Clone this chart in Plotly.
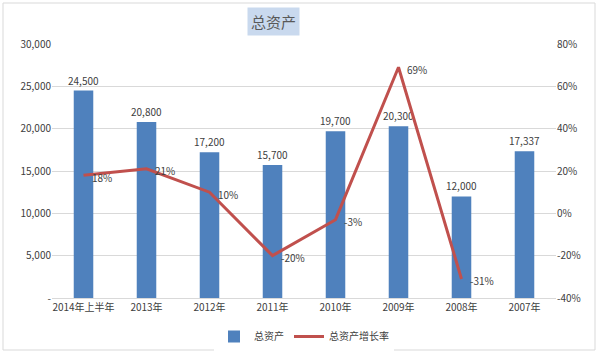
import plotly.graph_objects as go

categories = ["2014年上半年", "2013年", "2012年", "2011年", "2010年", "2009年", "2008年", "2007年"]
assets = [24500, 20800, 17200, 15700, 19700, 20300, 12000, 17337]
growth = [18, 21, 10, -20, -3, 69, -31, None]
left_ticks = [0, 5000, 10000, 15000, 20000, 25000, 30000]
left_ticktext = ["-", "5,000", "10,000", "15,000", "20,000", "25,000", "30,000"]
right_ticks = [-40, -20, 0, 20, 40, 60, 80]
right_ticktext = ["-40%", "-20%", "0%", "20%", "40%", "60%", "80%"]

FONT = "Noto Sans CJK SC"
TXT = "#404040"

fig = go.Figure()
fig.add_trace(go.Bar(
    x=categories, y=assets, name="总资产",
    marker=dict(color="#4f81bd", line=dict(width=0)),
    text=[f"{v:,}" for v in assets], textposition="outside",
    textfont=dict(size=10, color=TXT, family=FONT),
    constraintext="none",
    cliponaxis=False, width=0.31,
))
fig.add_trace(go.Scatter(
    x=categories, y=growth, name="总资产增长率", yaxis="y2",
    mode="lines", line=dict(color="#c0504d", width=3),
    cliponaxis=False,
))

annotations = [dict(
    text="总资产", xref="paper", yref="paper", x=(273 - 52) / 504, y=(354 - 56 - 22) / 254,
    xanchor="center", yanchor="middle", showarrow=False,
    font=dict(size=15, color="#595959", family=FONT),
    bgcolor="#c9d9ee", borderpad=3,
)]
for c, g in zip(categories, growth):
    if g is None:
        continue
    annotations.append(dict(
        x=c, y=g, xref="x", yref="y2", text=f"{g}%", showarrow=False,
        xanchor="left", yanchor="middle", xshift=6, yshift=-2,
        font=dict(size=10, color=TXT, family=FONT),
    ))

fig.update_layout(
    width=600, height=354,
    margin=dict(l=52, r=44, t=44, b=56, autoexpand=False),
    paper_bgcolor="white", plot_bgcolor="white",
    font=dict(family=FONT, size=10, color=TXT),
    showlegend=True,
    legend=dict(orientation="h", x=0.5, xanchor="center", yref="container", y=1 - 322 / 354, yanchor="top",
                font=dict(size=10, color=TXT, family=FONT), traceorder="normal"),
    xaxis=dict(showline=True, linecolor="#d9d9d9", ticks="", tickfont=dict(size=10, color=TXT)),
    yaxis=dict(range=[0, 30000], tickvals=left_ticks, ticktext=left_ticktext,
               showgrid=True, gridcolor="#d9d9d9", zeroline=False, ticks="",
               tickfont=dict(size=10, color=TXT)),
    yaxis2=dict(range=[-40, 80], tickvals=right_ticks, ticktext=right_ticktext,
                overlaying="y", side="right", showgrid=False, zeroline=False, ticks="",
                tickfont=dict(size=10, color=TXT)),
    annotations=annotations,
    shapes=[dict(type="rect", xref="paper", yref="paper",
                 x0=-49 / 504, x1=(595 - 52) / 504,
                 y0=-(350 - 298) / 254, y1=(298 - 3) / 254,
                 line=dict(color="#d9d9d9", width=1), fillcolor="rgba(0,0,0,0)", layer="below")],
)

fig.write_html("out.html")
